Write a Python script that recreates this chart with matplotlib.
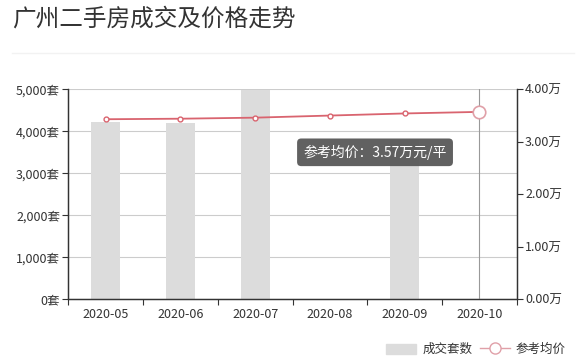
import matplotlib
matplotlib.use("Agg")
import matplotlib.pyplot as plt
import numpy as np
from matplotlib.lines import Line2D
from matplotlib.patches import Patch
from matplotlib.ticker import FuncFormatter

plt.rcParams["font.family"] = ["Noto Sans CJK SC", "DejaVu Sans"]

months = ["2020-05", "2020-06", "2020-07", "2020-08", "2020-09", "2020-10"]
deals = [4220, 4200, 4980, 0, 3800, 0]          # 成交套数
prices = [3.43, 3.44, 3.46, 3.50, 3.54, 3.57]     # 参考均价 (万元/平)

bar_color = "#dcdcdc"
line_color = "#d9646f"
text_color = "#333333"

fig = plt.figure(figsize=(5.8, 3.62), dpi=100)
ax = fig.add_axes([0.1178, 0.1732, 0.7731, 0.5801])
ax2 = ax.twinx()

x = np.arange(len(months))
ax.bar(x, deals, width=0.39, color=bar_color, zorder=2)

ax.set_xlim(-0.5, len(months) - 0.5)
ax.set_ylim(0, 5000)
ax.set_yticks(range(0, 5001, 1000))
ax.yaxis.set_major_formatter(FuncFormatter(lambda v, p: f"{int(v):,}套"))
ax.grid(axis="y", color="#cccccc", lw=0.8, zorder=0)
ax.set_axisbelow(True)

# category boundary ticks, labels centred
ax.set_xticks(np.arange(-0.5, len(months), 1.0))
ax.set_xticklabels([])
ax.set_xticks(x, minor=True)
ax.set_xticklabels(months, minor=True)
ax.tick_params(axis="x", which="major", length=4, color=text_color, direction="out")
ax.tick_params(axis="x", which="minor", length=0, pad=6, labelsize=9, labelcolor=text_color)
ax.tick_params(axis="y", length=4, color=text_color, labelsize=9, labelcolor=text_color, pad=2)

ax2.set_ylim(0, 4)
ax2.set_yticks(np.arange(0, 4.01, 1))
ax2.yaxis.set_major_formatter(FuncFormatter(lambda v, p: f"{v:.2f}万"))
ax2.tick_params(axis="y", length=4, color=text_color, labelsize=9, labelcolor=text_color, pad=2)

for a in (ax, ax2):
    a.spines["top"].set_visible(False)
    for side in ("left", "right", "bottom"):
        a.spines[side].set_color(text_color)
        a.spines[side].set_linewidth(0.9)

# axis pointer on the hovered month
ax2.axvline(x[-1], color="#999999", lw=0.8, zorder=1)

ax2.plot(x, prices, color=line_color, lw=1.3, marker="o", ms=3.5,
         mfc="white", mec=line_color, mew=1, zorder=4)
ax2.plot(x[-1], prices[-1], marker="o", ms=9, mfc="white", mec="#e0a0a8",
         mew=1.2, zorder=5)

ax2.text(0.684, 0.70, f"参考均价：{prices[-1]:.2f}万元/平", transform=ax2.transAxes,
         ha="center", va="center", fontsize=10, color="white", zorder=10,
         bbox=dict(boxstyle="round,pad=0.45,rounding_size=0.3",
                   fc=(0.33, 0.33, 0.33, 0.92), ec="none"))

fig.text(0.02, 0.948, "广州二手房成交及价格走势", fontsize=17, color=text_color,
         ha="left", va="center")
fig.add_artist(Line2D([0.02, 0.99], [0.853, 0.853], color="#f2f2f2", lw=1))

handles = [Patch(color=bar_color),
           Line2D([], [], color="#e0a0a8", lw=1, marker="o", ms=8,
                  mfc="white", mec="#e0a0a8")]
fig.legend(handles, ["成交套数", "参考均价"], loc="lower right",
           bbox_to_anchor=(0.995, -0.015), ncol=2, frameon=False, fontsize=9,
           handlelength=2.4, handleheight=0.9, columnspacing=0.6,
           handletextpad=0.5, labelcolor=text_color)

fig.savefig("out.png", dpi=100)
